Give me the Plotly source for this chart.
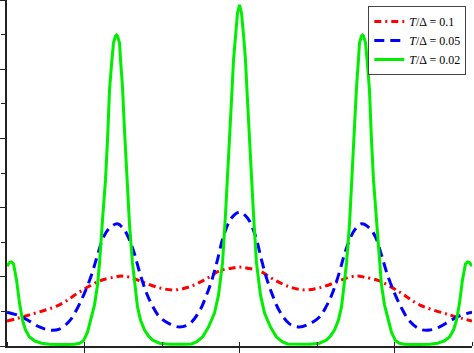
import plotly.graph_objects as go

# ---- data (x in 0..6, y in 0..10) ----
red_x = [0, 0.290, 0.677, 0.935, 1.194, 1.387, 1.477, 1.581, 1.748, 1.968, 2.161, 2.355, 2.548, 2.742, 2.897, 3.0,
         3.103, 3.258, 3.452, 3.645, 3.839, 4.032, 4.252, 4.419, 4.523, 4.613, 4.806, 5.065, 5.323, 5.710, 6.0]
red_y = [0.72, 0.90, 1.19, 1.56, 1.88, 1.99, 2.02, 1.99, 1.85, 1.68, 1.62, 1.71, 1.91, 2.17, 2.25, 2.28,
         2.25, 2.17, 1.91, 1.71, 1.62, 1.68, 1.85, 1.99, 2.02, 1.99, 1.88, 1.56, 1.19, 0.90, 0.72]

blue_x = [0, 0.161, 0.290, 0.419, 0.548, 0.677, 0.806, 0.910, 1.000, 1.090, 1.168, 1.245, 1.323, 1.426, 1.516,
          1.581, 1.645, 1.710, 1.800, 1.877, 1.968, 2.097, 2.226, 2.355, 2.484, 2.574, 2.652, 2.716, 2.794, 2.897, 3.0,
          3.103, 3.206, 3.284, 3.348, 3.426, 3.516, 3.645, 3.774, 3.903, 4.032, 4.123, 4.200, 4.290, 4.355, 4.419,
          4.484, 4.574, 4.677, 4.755, 4.832, 4.910, 5.000, 5.090, 5.194, 5.323, 5.452, 5.581, 5.710, 5.839, 6.0]
blue_y = [0.98, 0.87, 0.72, 0.55, 0.46, 0.49, 0.72, 1.10, 1.53, 2.05, 2.63, 3.15, 3.41, 3.53, 3.35,
          3.06, 2.66, 2.14, 1.53, 1.16, 0.84, 0.64, 0.55, 0.64, 1.01, 1.47, 1.97, 2.49, 3.18, 3.70, 3.87,
          3.70, 3.18, 2.49, 1.97, 1.47, 1.01, 0.64, 0.55, 0.64, 0.84, 1.16, 1.53, 2.14, 2.66, 3.06,
          3.35, 3.53, 3.41, 3.15, 2.63, 2.05, 1.53, 1.10, 0.72, 0.49, 0.46, 0.55, 0.72, 0.87, 0.98]

green_x = [0, 0.032, 0.058, 0.084, 0.123, 0.161, 0.200, 0.239, 0.290, 0.355, 0.445, 0.548, 0.742, 0.871, 0.935,
           0.987, 1.039, 1.077, 1.129, 1.168, 1.194, 1.232, 1.271, 1.297, 1.323, 1.348, 1.374, 1.400, 1.413, 1.426,
           1.452, 1.465, 1.490, 1.516, 1.555, 1.581, 1.619, 1.658, 1.684, 1.723, 1.774, 1.826, 1.877, 1.968, 2.097,
           2.290, 2.381, 2.445, 2.523, 2.600, 2.677, 2.729, 2.781, 2.819, 2.845, 2.871, 2.897, 2.923, 2.948, 2.974, 3.0,
           3.026, 3.052, 3.077, 3.103, 3.129, 3.155, 3.181, 3.219, 3.271, 3.323, 3.400, 3.477, 3.555, 3.619, 3.710,
           3.903, 4.032, 4.123, 4.174, 4.226, 4.277, 4.316, 4.342, 4.381, 4.419, 4.445, 4.484, 4.510, 4.535, 4.548,
           4.574, 4.587, 4.600, 4.626, 4.652, 4.677, 4.703, 4.729, 4.768, 4.806, 4.832, 4.871, 4.923, 4.961, 5.013,
           5.065, 5.129, 5.258, 5.452, 5.555, 5.645, 5.710, 5.761, 5.800, 5.839, 5.877, 5.916, 5.942, 5.968, 6.0]
green_y = [2.31, 2.41, 2.43, 2.37, 1.91, 1.24, 0.75, 0.46, 0.26, 0.15, 0.08, 0.05, 0.04, 0.05, 0.08,
           0.15, 0.40, 0.75, 1.19, 1.76, 2.40, 3.64, 4.80, 5.95, 7.40, 8.12, 8.76, 8.96, 8.99, 8.96,
           8.76, 8.27, 7.49, 6.24, 4.71, 3.50, 2.40, 1.62, 1.13, 0.75, 0.46, 0.29, 0.17, 0.08, 0.05,
           0.05, 0.06, 0.12, 0.26, 0.55, 0.95, 1.47, 2.40, 3.79, 4.80, 5.95, 7.11, 8.27, 8.99, 9.62, 9.86,
           9.62, 8.99, 8.27, 7.11, 5.95, 4.80, 3.79, 2.40, 1.47, 0.95, 0.55, 0.26, 0.12, 0.06, 0.05,
           0.05, 0.08, 0.17, 0.29, 0.46, 0.75, 1.13, 1.62, 2.40, 3.50, 4.71, 6.24, 7.49, 8.27, 8.76,
           8.96, 8.99, 8.96, 8.76, 8.12, 7.40, 5.95, 4.80, 3.64, 2.40, 1.76, 1.19, 0.75, 0.40, 0.15,
           0.08, 0.05, 0.04, 0.05, 0.08, 0.15, 0.26, 0.46, 0.75, 1.24, 1.91, 2.37, 2.43, 2.41, 2.31]

names = ["<i>T</i>/Δ = 0.1", "<i>T</i>/Δ = 0.05", "<i>T</i>/Δ = 0.02"]
x_range = [0, 6]
y_range = [0, 10]

fig = go.Figure()
fig.add_trace(go.Scatter(x=red_x, y=red_y, mode="lines", name=names[0], line_shape="spline",
                         line=dict(color="#ff0000", width=3, dash="7px,4px,2px,4px")))
fig.add_trace(go.Scatter(x=blue_x, y=blue_y, mode="lines", name=names[1], line_shape="spline",
                         line=dict(color="#0000ff", width=3, dash="10px,6px")))
fig.add_trace(go.Scatter(x=green_x, y=green_y, mode="lines", name=names[2],
                         line=dict(color="#00ee00", width=3)))

axc = "#222222"
fig.update_layout(
    width=474, height=353,
    margin=dict(l=7, r=2, t=0, b=7),
    paper_bgcolor="white", plot_bgcolor="white",
    font=dict(family="Liberation Serif", size=12, color="black"),
    xaxis=dict(range=x_range, showgrid=False, zeroline=False, showline=True, linecolor=axc, linewidth=1.5,
               tick0=1, dtick=2, ticks="outside", ticklen=7, tickcolor=axc, tickwidth=1, showticklabels=False,
               minor=dict(dtick=1, tick0=0, ticks="inside", ticklen=4, tickcolor=axc, tickwidth=1)),
    xaxis2=dict(range=x_range, overlaying="x", side="top", showgrid=False, zeroline=False, showline=False,
                tick0=0, dtick=1, ticks="inside", ticklen=5, tickcolor=axc, showticklabels=False),
    xaxis3=dict(range=x_range, overlaying="x", side="bottom", showgrid=False, zeroline=False, showline=False,
                tick0=1, dtick=2, ticks="inside", ticklen=7, tickcolor=axc, showticklabels=False),
    yaxis=dict(range=y_range, showgrid=False, zeroline=False, showline=True, linecolor=axc, linewidth=1.5,
               tick0=0, dtick=2, ticks="outside", ticklen=7, tickcolor=axc, showticklabels=False,
               minor=dict(dtick=1, tick0=0, ticks="outside", ticklen=4, tickcolor=axc)),
    yaxis2=dict(range=y_range, overlaying="y", side="right", showgrid=False, zeroline=False, showline=True,
                linecolor="#666666", linewidth=1.5, tick0=0, dtick=1, ticks="inside", ticklen=5,
                tickcolor=axc, showticklabels=False),
    yaxis3=dict(range=y_range, overlaying="y", side="left", showgrid=False, zeroline=False, showline=False,
                tick0=0, dtick=2, ticks="inside", ticklen=7, tickcolor=axc, showticklabels=False,
                minor=dict(dtick=1, tick0=0, ticks="inside", ticklen=3, tickcolor=axc)),
    legend=dict(x=0.777, y=0.983, xanchor="left", yanchor="top", bgcolor="white",
                bordercolor="#444444", borderwidth=1, font=dict(family="Liberation Serif", size=12),
                tracegroupgap=0, itemwidth=30),
    showlegend=True,
)

fig.write_html("out.html")
